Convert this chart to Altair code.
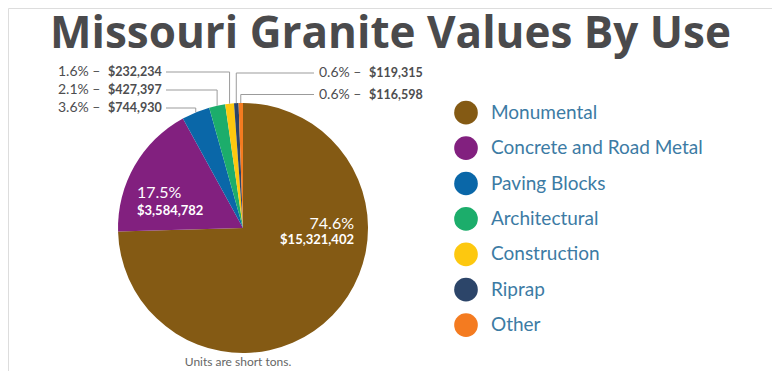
import math
import altair as alt
import pandas as pd

# ---------------- data ----------------
categories = ["Monumental", "Concrete and Road Metal", "Paving Blocks",
              "Architectural", "Construction", "Riprap", "Other"]
values = [15321402, 3584782, 744930, 427397, 232234, 119315, 116598]
pct_labels = ["74.6%", "17.5%", "3.6%", "2.1%", "1.6%", "0.6%", "0.6%"]
dollar_labels = ["$15,321,402", "$3,584,782", "$744,930", "$427,397",
                 "$232,234", "$119,315", "$116,598"]
colors = ["#845a14", "#82207f", "#0a67a8", "#1cad6b", "#fdc80f", "#2c4569", "#f47b20"]

title_text = "Missouri Granite Values By Use"
note_text = "Units are short tons."

# ---------------- layout (plot-area pixels) ----------------
W, H = 764, 363
CX, CY, R = 235, 220, 125
TXT = "#4d4d4f"
FONT = "Lato"

df = pd.DataFrame({"category": categories, "value": values, "idx": range(len(values)),
                   "pct": pct_labels, "dollar": dollar_labels})
total = sum(values)
cum = 0
mids = []
for v in values:
    mids.append((cum + v / 2) / total * 2 * math.pi)
    cum += v
df["ax"] = [CX + R * math.sin(a) for a in mids]
df["ay"] = [CY - R * math.cos(a) for a in mids]

xs = alt.Scale(domain=[0, W], range=[0, W])
ys = alt.Scale(domain=[0, H], range=[0, H])
X = lambda f: alt.X(f, scale=xs, axis=None)
Y = lambda f: alt.Y(f, scale=ys, axis=None)
color_scale = alt.Scale(domain=categories, range=colors)

pie = alt.Chart(df).mark_arc(outerRadius=R).encode(
    theta=alt.Theta("value:Q", stack=True),
    color=alt.Color("category:N", scale=color_scale, legend=None),
    order=alt.Order("idx:Q"),
    x=alt.value(CX), y=alt.value(CY),
)

# outside labels: left side (Paving, Architectural, Construction), right side (Riprap, Other)
left_rows = {"Paving Blocks": 100, "Architectural": 82, "Construction": 64}
right_rows = {"Riprap": 65, "Other": 86.5}
seg = []
lab = []
for _, r in df.iterrows():
    c = r["category"]
    if c in left_rows:
        ly = left_rows[c]
        seg.append({"x": 158, "x2": r["ax"], "y": ly, "y2": ly})
        seg.append({"x": r["ax"], "x2": r["ax"], "y": ly, "y2": r["ay"]})
        lab.append({"px": 50, "dxp": 100, "y": ly, "pct": r["pct"] + " \u2013", "dollar": r["dollar"]})
    elif c in right_rows:
        ly = right_rows[c]
        seg.append({"x": r["ax"], "x2": 306, "y": ly, "y2": ly})
        seg.append({"x": r["ax"], "x2": r["ax"], "y": ly, "y2": r["ay"]})
        lab.append({"px": 311, "dxp": 361, "y": ly, "pct": r["pct"] + " \u2013", "dollar": r["dollar"]})
seg_df = pd.DataFrame(seg)
lab_df = pd.DataFrame(lab)

leaders = alt.Chart(seg_df).mark_rule(color="#9b9b9b", strokeWidth=1).encode(
    x=X("x:Q"), x2="x2:Q", y=Y("y:Q"), y2="y2:Q")

out_pct = alt.Chart(lab_df).mark_text(align="left", baseline="middle", font=FONT,
                                      fontSize=14, color=TXT).encode(
    x=X("px:Q"), y=Y("y:Q"), text="pct:N")
out_dol = alt.Chart(lab_df).mark_text(align="left", baseline="middle", font=FONT,
                                      fontSize=12.5, fontWeight="bold", color=TXT).encode(
    x=X("dxp:Q"), y=Y("y:Q"), text="dollar:N")

# inside labels
inside = pd.DataFrame({
    "x": [346, 129], "y1": [221, 190], "y2": [236, 207],
    "pct": pct_labels[:2], "dollar": dollar_labels[:2], "al": ["right", "left"]})
in_layers = []
for al in ["right", "left"]:
    d = inside[inside["al"] == al]
    in_layers.append(alt.Chart(d).mark_text(align=al, baseline="alphabetic", font=FONT,
                                            fontSize=16, color="white").encode(
        x=X("x:Q"), y=Y("y1:Q"), text="pct:N"))
    in_layers.append(alt.Chart(d).mark_text(align=al, baseline="alphabetic", font=FONT,
                                            fontSize=13, fontWeight="bold", color="white").encode(
        x=X("x:Q"), y=Y("y2:Q"), text="dollar:N"))

# legend
leg = pd.DataFrame({"category": categories, "lx": 458, "tx": 483,
                    "ly": [104.7 + 35.4 * i for i in range(len(categories))]})
leg_pts = alt.Chart(leg).mark_point(filled=True, shape="circle", size=560, opacity=1).encode(
    x=X("lx:Q"), y=Y("ly:Q"),
    color=alt.Color("category:N", scale=color_scale, legend=None))
leg_txt = alt.Chart(leg).mark_text(align="left", baseline="middle", font=FONT, fontSize=19,
                                   color="#3c7ba4").encode(
    x=X("tx:Q"), y=Y("ly:Q"), text="category:N")

# title and note
tdf = pd.DataFrame({"x": [382.5], "y": [40], "t": [title_text]})
title = alt.Chart(tdf).mark_text(align="center", baseline="alphabetic", font="Open Sans",
                                 fontSize=44, fontWeight="bold", color="#4a4a4c").encode(
    x=X("x:Q"), y=Y("y:Q"), text="t:N")
ndf = pd.DataFrame({"x": [230], "y": [358], "t": [note_text]})
note = alt.Chart(ndf).mark_text(align="center", baseline="alphabetic", font=FONT, fontSize=12,
                                color="#666666").encode(
    x=X("x:Q"), y=Y("y:Q"), text="t:N")

chart = alt.layer(pie, leaders, out_pct, out_dol, *in_layers, leg_pts, leg_txt, title, note).properties(
    width=W, height=H, padding=0, autosize=alt.AutoSizeParams(type="none")
).configure_view(stroke=None).configure(background="white")

chart.save("out.html", embed_options={"renderer": "svg", "actions": False})
